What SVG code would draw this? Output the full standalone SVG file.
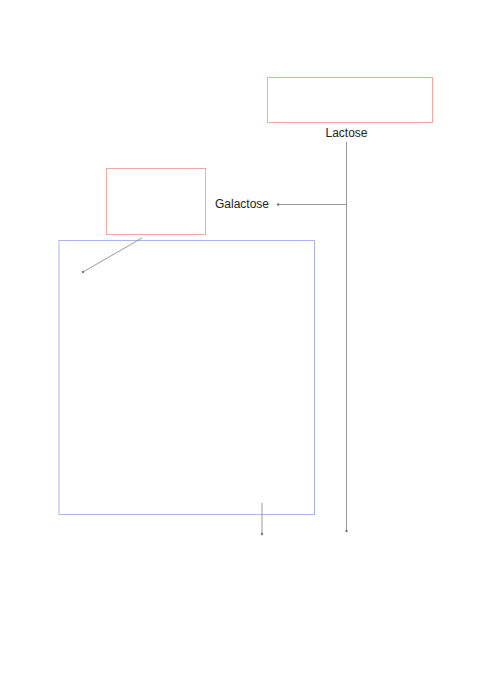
<svg xmlns="http://www.w3.org/2000/svg" width="491" height="700" viewBox="0 0 491 700">
<style>
.red{fill:none;stroke:#f2a9a4;stroke-width:1}
.blue{fill:none;stroke:#aab4f0;stroke-width:1}
.ln{fill:none;stroke:#999;stroke-width:1}
text{font-family:"Liberation Sans",Arial,sans-serif;font-size:12px;fill:#222}
</style>
<defs>
<marker id="dot" markerWidth="4" markerHeight="4" refX="2" refY="2" markerUnits="userSpaceOnUse"><circle cx="2" cy="2" r="1.2" fill="#777"/></marker>
</defs>
<rect width="491" height="700" fill="#fff"/>
<g id="box-top"><rect class="red" x="267.5" y="77.5" width="165" height="45"/></g>
<g id="box-small"><rect class="red" x="106.5" y="168.5" width="99" height="66"/></g>
<g id="box-blue"><rect class="blue" x="59" y="240.5" width="255.5" height="274"/></g>
<g id="lactose"><text x="346.5" y="137" text-anchor="middle">Lactose</text></g>
<g id="galactose"><text x="242" y="208" text-anchor="middle">Galactose</text></g>
<g id="connectors">
<line class="ln" x1="346.5" y1="142" x2="346.5" y2="531" marker-end="url(#dot)"/>
<line class="ln" x1="346.5" y1="204.5" x2="278" y2="204.5" marker-end="url(#dot)"/>
<line class="ln" x1="142" y1="238" x2="83" y2="272" marker-end="url(#dot)"/>
<line class="ln" x1="262" y1="503" x2="262" y2="534" marker-end="url(#dot)"/>
</g>
</svg>
